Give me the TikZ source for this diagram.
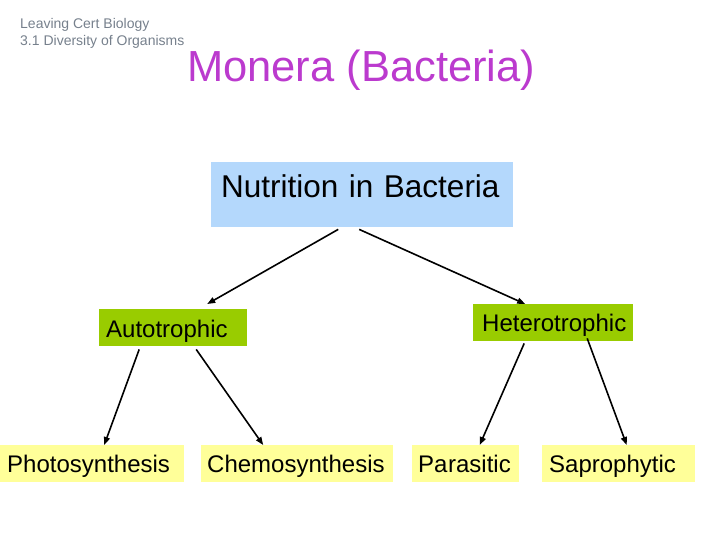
\documentclass[tikz,border=0pt]{standalone}
\usepackage{fontspec}
\setmainfont{Liberation Sans}
\usetikzlibrary{positioning,arrows.meta}
\definecolor{titlepurple}{RGB}{187,58,206}
\definecolor{hdrgray}{RGB}{118,128,140}
\definecolor{boxblue}{RGB}{180,216,252}
\definecolor{boxgreen}{RGB}{153,204,0}
\definecolor{boxyellow}{RGB}{255,255,153}
\tikzset{
  hdr/.style={anchor=base west,inner sep=0pt,text=hdrgray,font=\fontsize{14}{17}\selectfont},
  ttl/.style={anchor=base west,inner sep=0pt,text=titlepurple,font=\fontsize{43.5}{50}\selectfont},
  nbox/.style={anchor=north west,rectangle,inner ysep=0pt,align=left},
  topbox/.style={nbox,fill=boxblue,font=\fontsize{31.5}{36}\selectfont},
  midbox/.style={nbox,fill=boxgreen,font=\fontsize{24}{28}\selectfont},
  leafbox/.style={nbox,fill=boxyellow,font=\fontsize{24}{28}\selectfont,text height=27pt,text depth=9.5pt},
  arr/.style={line width=1.6pt,-{Triangle[length=8pt,width=6pt]}}
}
\begin{document}
\begin{tikzpicture}[x=1pt,y=-1pt]
  \useasboundingbox (0,0) rectangle (720,540);
  % heading
  \node[hdr] (hdrA) at (20,28.3) {Leaving Cert Biology};
  \node[hdr] (hdrB) at (20,45.7) {3.1 Diversity of Organisms};
  \node[ttl] (title) at (187,82) {Monera (Bacteria)};
  % boxes
  \node[topbox,inner xsep=10pt,text width=282pt,text height=35pt,text depth=30pt] (nut) at (211,162) {Nutrition in Bacteria};
  \node[midbox,inner xsep=7pt,text width=134pt,text height=28pt,text depth=9pt] (auto) at (99,309) {Autotrophic};
  \node[midbox,inner xsep=9pt,text width=142pt,text height=27pt,text depth=10pt] (het) at (473,304) {Heterotrophic};
  \node[leafbox,inner xsep=7pt,text width=170pt] (photo) at (0,445) {Photosynthesis};
  \node[leafbox,inner xsep=6pt,text width=180pt] (chemo) at (201,445) {Chemosynthesis};
  \node[leafbox,inner xsep=6pt,text width=95pt] (para) at (412,445) {Pa\hspace{0.6pt}rasitic};
  \node[leafbox,inner xsep=7pt,text width=139pt] (sapro) at (542,445) {Saprophytic};
  % arrows
  \draw[arr] ([xshift=-24pt,yshift=-2pt]nut.south) -- ([xshift=34pt,yshift=5pt]auto.north);
  \draw[arr] ([xshift=-3pt,yshift=-2pt]nut.south) -- ([xshift=-28pt]het.north);
  \draw[arr] ([xshift=-34pt,yshift=-3pt]auto.south) -- ([xshift=12pt]photo.north);
  \draw[arr] ([xshift=23pt,yshift=-3pt]auto.south) -- ([xshift=-34pt]chemo.north);
  \draw[arr] ([xshift=-29pt,yshift=-2pt]het.south) -- ([xshift=14pt]para.north);
  \draw[arr] ([xshift=34pt,yshift=3pt]het.south) -- ([xshift=8pt]sapro.north);
\end{tikzpicture}
\end{document}
